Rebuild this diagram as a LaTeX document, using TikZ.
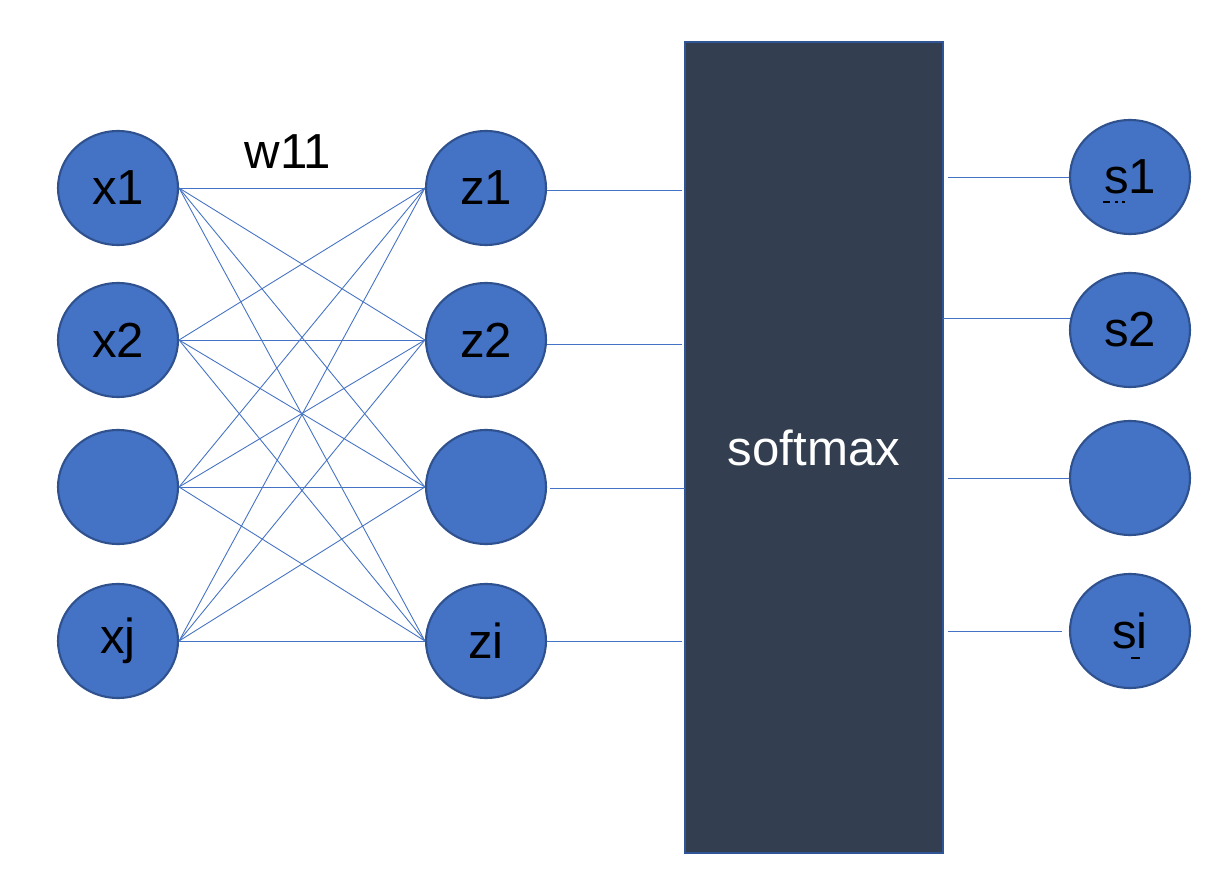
\documentclass[tikz,border=0pt]{standalone}
\usepackage{fontspec}
\setmainfont{Liberation Sans}
\begin{document}
\begin{tikzpicture}[x=0.02cm,y=-0.02cm,
  neuron/.style={ellipse,draw=blue!30!black!10!cyan!0!black,draw=nborder,fill=nfill,line width=1.2pt,minimum width=2.4cm,minimum height=2.28cm,inner sep=0pt,font=\fontsize{28}{30}\selectfont},
  conn/.style={draw=lineblue,line width=0.5pt},
  every node/.append style={}]
\definecolor{nfill}{HTML}{4472C4}
\definecolor{nborder}{HTML}{2F528F}
\definecolor{lineblue}{HTML}{4472C4}
\definecolor{boxfill}{HTML}{333F50}
\definecolor{boxborder}{HTML}{2F5597}
\usetikzlibrary{shapes.geometric}
\useasboundingbox (0,0) rectangle (1211,871);
\fill[white] (0,0) rectangle (1211,871);
\node[neuron] (x1) at (118,188) {x1};
\node[neuron] (x2) at (118,340) {x2};
\node[neuron] (x3) at (118,487) {};
\node[neuron] (x4) at (118,641) {xj};
\node[neuron] (z1) at (486,188) {z1};
\node[neuron] (z2) at (486,340) {z2};
\node[neuron] (z3) at (486,487) {};
\node[neuron] (z4) at (486,641) {zi};
\node[neuron] (s1) at (1130,177) {s1};
\node[neuron] (s2) at (1130,330) {s2};
\node[neuron] (s3) at (1130,478) {};
\node[neuron] (s4) at (1130,631) {si};
\node[draw=boxborder,fill=boxfill,line width=1.2pt,minimum width=5.16cm,minimum height=16.22cm,inner sep=0pt,text=white,font=\fontsize{28}{30}\selectfont] (sm) at (814,447.5) {softmax};
\node[font=\fontsize{28}{30}\selectfont] (w) at (288,152) {w11};
\foreach \a in {x1,x2,x3,x4}{\foreach \b in {z1,z2,z3,z4}{\draw[conn] (\a.east) -- (\b.west);}}
\coordinate (a1) at (682,190); \coordinate (a2) at (682,344); \coordinate (a3) at (685,488); \coordinate (a4) at (682,641);
\draw[conn] (z1.east |- a1) -- (a1);
\draw[conn] (z2.east |- a2) -- (a2);
\draw[conn] (550,488) -- (a3);
\draw[conn] (z4.east |- a4) -- (a4);
\coordinate (b1) at (948,177); \coordinate (b2) at (943,318); \coordinate (b3) at (948,478); \coordinate (b4) at (948,631);
\draw[conn] (b1) -- (s1.west);
\draw[conn] (b2) -- (1070,318);
\draw[conn] (b3) -- (s3.west);
\draw[conn] (b4) -- (1062,631);
\draw[line width=1pt] (1103,202) -- (1110,202) (1115,202) -- (1118,202) (1122,202) -- (1125,202);
\draw[line width=1pt] (1131,658) -- (1140,658);
\end{tikzpicture}
\end{document}
